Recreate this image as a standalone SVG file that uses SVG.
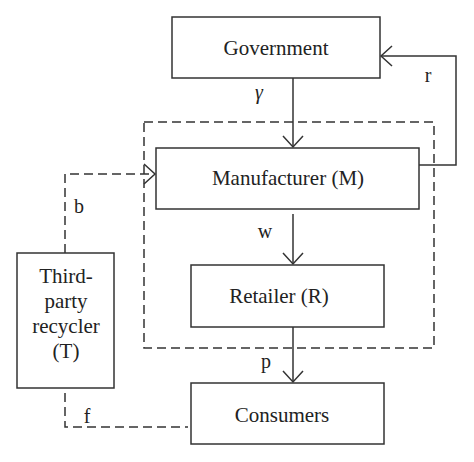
<svg xmlns="http://www.w3.org/2000/svg" width="474" height="462" viewBox="0 0 474 462" font-family="Liberation Serif, DejaVu Serif, serif">
<style>
.box{fill:#fff;stroke:#333;stroke-width:1.5}
.ln{fill:none;stroke:#333;stroke-width:1.5}
.dash{fill:none;stroke:#333;stroke-width:1.5;stroke-dasharray:9 5}
text{font-size:21px;fill:#222}
.c{text-anchor:middle}
.lab{font-size:20px}
</style>
<defs>
<marker id="ah" markerWidth="14" markerHeight="24" refX="12" refY="11" orient="auto" markerUnits="userSpaceOnUse">
<path d="M1,1 L12,11 L1,21" fill="none" stroke="#333" stroke-width="1.5"/>
</marker>
</defs>
<rect x="0" y="0" width="474" height="462" fill="#fff"/>
<g id="connectors">
<path class="dash" d="M144,122 H434 V348 H144 Z"/>
<path class="ln" d="M293,78 V147" marker-end="url(#ah)"/>
<path class="ln" d="M419,165 H456 V56 H381" marker-end="url(#ah)"/>
<path class="dash" d="M65,253 V174 H155" marker-end="url(#ah)"/>
<path class="ln" d="M293,214 V264" marker-end="url(#ah)"/>
<path class="ln" d="M293,327 V382" marker-end="url(#ah)"/>
<path class="dash" d="M65,393 V427 H188"/>
<text class="lab" x="259" y="99" font-style="italic" text-anchor="middle">γ</text>
<text class="lab" x="428" y="82" text-anchor="middle">r</text>
<text class="lab" x="79" y="213" text-anchor="middle">b</text>
<text class="lab" x="265" y="238" text-anchor="middle">w</text>
<text class="lab" x="266" y="368" text-anchor="middle">p</text>
<text class="lab" x="87" y="423" text-anchor="middle">f</text>
</g>
<g id="government">
<rect class="box" x="172" y="17" width="208" height="61"/>
<text class="c" x="276" y="55">Government</text>
</g>
<g id="manufacturer">
<rect class="box" x="156" y="148" width="263" height="61"/>
<text class="c" x="288" y="185">Manufacturer (M)</text>
</g>
<g id="retailer">
<rect class="box" x="191" y="265" width="193" height="62"/>
<text class="c" x="279" y="303">Retailer (R)</text>
</g>
<g id="consumers">
<rect class="box" x="191" y="383" width="193" height="61"/>
<text class="c" x="282" y="422">Consumers</text>
</g>
<g id="recycler">
<rect class="box" x="17" y="253" width="97" height="135"/>
<text class="c" x="66" y="283">Third-</text>
<text class="c" x="66" y="308">party</text>
<text class="c" x="66" y="333">recycler</text>
<text class="c" x="66" y="358">(T)</text>
</g>
</svg>
